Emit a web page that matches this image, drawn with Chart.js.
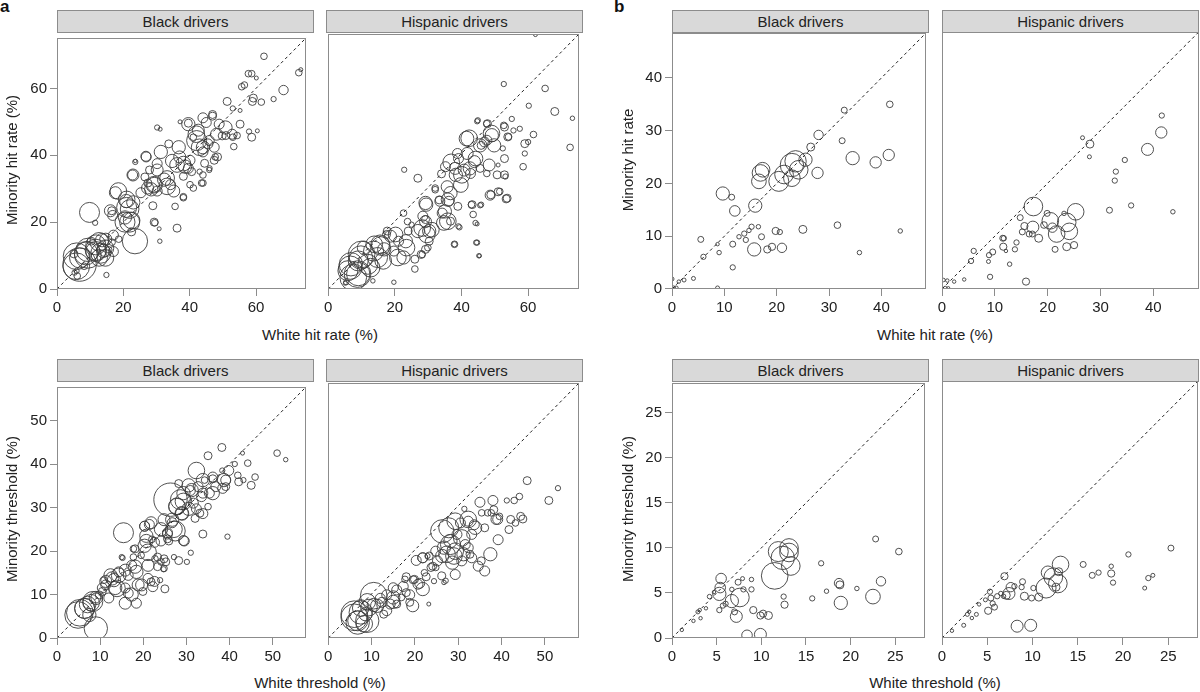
<!DOCTYPE html>
<html>
<head>
<meta charset="utf-8">
<script src="https://cdn.jsdelivr.net/npm/chart.js@4.4.1/dist/chart.umd.min.js"></script>
<style>
  body { margin: 0; width: 1200px; height: 692px; background: #fff; position: relative; overflow: hidden;
         font-family: "Liberation Sans", Arial, sans-serif; color: #222; }
  canvas { position: absolute; }
  .strip { position: absolute; height: 23px; box-sizing: border-box; background: #d9d9d9; border: 1px solid #8c8c8c;
           font-size: 15px; line-height: 21px; text-align: center; }
  .xlab { position: absolute; font-size: 15px; white-space: nowrap; transform: translate(-50%, -50%); }
  .ylab { position: absolute; font-size: 15px; white-space: nowrap; transform: translate(-50%, -50%) rotate(-90deg); }
  .tag { position: absolute; font-size: 17px; font-weight: bold; color: #111; }
</style>
</head>
<body>
<script>
// each point: [white value, minority value, relative number of stops]
const hitRateBlackA = [[5.1,10.5,16],[6.1,3.9,11],[5.9,5.4,7],[6.8,7.3,278],[9.3,10.2,178],[11.7,11.7,114],[9.3,11.7,136],[11.7,13.2,100],[12.7,14.1,87],[9.8,22.9,100],[11.5,19.8,7],[10.3,14.3,16],[12.7,9.3,69],[13.2,10.7,100],[13.9,11.4,44],[14.7,14.9,36],[15.6,11.7,11],[14.9,4.2,7],[16.6,14.0,11],[17.6,28.8,36],[16.1,23.4,36],[16.8,22.0,25],[18.6,14.9,11],[20.5,20.0,100],[21.0,24.4,100],[22.5,20.5,69],[23.0,25.9,44],[23.5,14.3,160],[22.5,17.1,16],[22.8,34.1,25],[23.6,38.3,3],[26.9,39.5,25],[27.4,31.7,16],[27.9,35.6,16],[28.4,29.8,44],[29.3,31.2,54],[28.9,24.9,16],[29.3,20.0,16],[29.5,19.8,11],[30.2,35.6,36],[30.8,18.0,4],[31.0,14.3,5],[31.1,47.8,4],[31.3,41.0,44],[32.3,32.7,44],[33.2,33.2,54],[34.2,31.2,25],[35.2,29.3,36],[35.6,24.7,11],[36.2,18.2,16],[36.2,37.1,54],[37.0,39.5,36],[36.7,42.4,44],[37.1,50.0,4],[38.1,27.6,11],[38.1,33.7,16],[38.6,36.6,44],[39.6,49.6,16],[40.1,38.5,25],[40.1,31.2,11],[40.6,35.1,16],[41.1,45.4,11],[42.1,44.4,100],[43.0,42.4,69],[42.6,47.5,36],[44.0,31.7,11],[44.0,41.0,25],[44.5,37.6,16],[45.0,49.8,25],[45.5,43.4,25],[46.0,36.1,7],[46.9,52.2,16],[47.4,38.5,16],[47.7,39.5,11],[48.1,46.3,36],[48.9,49.3,25],[50.9,45.9,16],[51.3,56.1,16],[53.0,54.0,7],[53.3,42.6,11],[53.0,45.4,11],[54.3,45.9,11],[55.2,53.4,4],[55.2,49.3,16],[55.7,60.5,11],[56.5,61.0,11],[57.7,64.4,11],[58.7,64.4,11],[60.1,63.1,4],[57.9,47.1,7],[58.7,45.4,16],[58.9,56.1,16],[59.2,57.1,16],[60.4,47.3,4],[61.6,55.9,11],[62.4,69.6,11],[65.3,56.8,7],[68.3,59.5,22],[72.9,64.7,11],[73.5,65.6,4],[21.0,26.8,69],[5.9,9.8,178],
  [44.0,51.2,25],[46.9,51.7,16],[50.8,48.3,44],[52.8,46.3,25],[49.8,45.8,16],[39.6,49.3,44],[42.0,46.3,69],[44.0,42.4,44],[45.9,44.4,25],[48.4,39.5,16],[47.4,42.4,25],[38.1,37.5,54],[39.6,36.1,25],[34.7,38.3,44],[33.7,43.4,16],[30.2,48.3,7],[26.8,39.7,25],[23.6,38.0,7],[22.9,34.1,36],[30.2,37.5,25],[26.5,33.5,16],[29.3,31.2,69],[27.3,30.2,36],[33.2,30.7,69],[30.2,29.3,25],[25.3,28.8,25],[18.5,29.3,69],[20.9,26.3,44],[16.5,23.4,16],[21.9,23.9,87],[21.9,20.0,100],[20.5,21.4,44],[38.1,27.3,11],[41.1,30.2,11],[43.6,31.7,11],[44.0,34.1,11],[45.9,35.6,7],[43.0,35.1,7],[13.6,14.6,44],[14.6,12.2,69],[11.7,11.2,100],[8.7,10.7,136],[6.8,9.3,100],[5.8,6.8,178],[14.6,9.3,69],[17.0,11.2,25],[17.0,16.1,25],[5.3,4.9,7],[8.2,6.8,11]];
const hitRateHispA = [[5.1,1.7,4],[6.6,6.3,136],[7.5,3.4,178],[9.0,8.3,100],[10.0,10.2,178],[9.0,4.4,136],[11.9,7.3,100],[13.4,2.4,5],[13.8,13.2,69],[14.8,9.3,100],[15.8,12.7,87],[16.8,11.7,44],[17.7,17.1,16],[18.7,15.6,36],[19.7,2.0,5],[19.7,11.2,25],[20.2,16.1,54],[21.1,14.1,25],[22.6,22.4,11],[22.6,9.3,44],[23.5,12.2,69],[24.0,17.1,16],[25.0,19.0,7],[26.0,5.9,11],[26.0,8.8,16],[26.9,32.7,16],[26.9,17.1,44],[27.9,10.2,16],[28.4,21.5,25],[29.2,20.5,16],[29.4,24.9,44],[29.6,16.1,69],[30.3,17.1,44],[29.9,12.2,11],[30.3,14.1,16],[32.1,29.8,11],[33.3,26.3,16],[34.2,22.4,25],[34.7,19.5,54],[35.2,36.1,25],[35.7,30.2,36],[36.2,25.9,25],[36.7,20.0,16],[36.7,28.3,44],[37.9,13.2,7],[38.1,35.6,36],[39.1,38.5,25],[39.1,18.5,7],[40.1,33.7,69],[40.8,35.1,36],[41.5,44.4,54],[42.5,35.6,44],[43.0,24.9,11],[43.5,22.0,11],[43.9,37.6,36],[44.4,13.7,7],[44.7,19.2,4],[44.9,49.8,7],[45.4,9.8,4],[45.9,24.9,7],[45.9,42.4,16],[46.9,43.4,25],[47.8,48.8,16],[48.3,36.6,36],[48.8,27.8,16],[49.0,45.9,69],[49.8,42.4,44],[50.7,33.7,16],[51.0,36.6,4],[51.5,28.8,11],[52.7,48.3,11],[52.7,60.5,7],[53.2,33.2,7],[53.7,26.8,16],[54.1,44.9,11],[55.1,50.2,7],[55.6,46.8,7],[57.5,47.3,7],[58.5,36.1,11],[59.0,40.0,7],[59.0,42.9,16],[60.0,43.4,7],[60.2,54.1,7],[61.6,45.6,11],[62.2,75.1,4],[65.1,59.2,11],[68.0,52.4,16],[72.6,41.8,11],[73.3,50.4,5],
  [44.7,49.5,7],[47.6,48.8,11],[49.1,45.4,44],[52.9,47.8,16],[53.9,44.9,16],[52.4,41.5,7],[52.9,38.5,16],[52.9,33.7,16],[47.6,43.9,25],[45.6,42.4,44],[42.3,44.5,69],[41.7,40.0,36],[44.2,38.5,54],[38.8,40.0,25],[36.9,37.4,69],[38.3,33.7,44],[39.8,30.7,54],[42.7,34.1,25],[45.6,35.6,16],[47.6,34.1,11],[48.6,27.7,25],[51.0,28.7,16],[53.4,26.6,16],[43.2,24.9,16],[45.6,24.7,7],[44.2,19.5,7],[44.7,13.7,7],[45.2,9.8,5],[37.9,13.2,11],[34.0,34.0,16],[32.1,29.3,11],[29.2,25.4,44],[33.5,25.9,25],[35.9,26.4,44],[35.0,22.9,44],[35.9,20.0,69],[38.9,24.4,16],[39.4,18.2,7],[29.2,19.9,36],[28.2,18.0,69],[31.1,17.5,54],[22.8,35.2,7],[23.8,19.9,11],[23.3,14.1,44],[20.9,9.3,69],[28.2,10.2,11],[29.2,11.7,16],[17.5,16.1,16],[15.6,13.2,87],[13.6,11.2,100],[10.7,12.2,44],[9.8,9.3,136],[6.8,7.3,136],[5.9,5.4,100],[8.8,4.4,178],[12.7,6.3,87],[16.5,8.3,69],[5.4,2.0,7]];
const thresholdBlackA = [[5.3,5.8,178],[6.4,6.8,100],[7.1,7.7,69],[9.0,2.2,136],[8.3,8.4,100],[9.0,9.2,25],[9.8,9.9,16],[10.5,10.7,16],[10.9,13.3,11],[11.3,12.2,25],[12.0,9.2,25],[12.4,14.4,44],[13.2,13.3,44],[13.9,11.4,69],[14.3,15.2,25],[15.4,24.2,100],[15.2,18.4,7],[15.8,8.0,36],[16.5,14.4,25],[16.5,10.3,25],[17.3,16.7,25],[17.7,20.5,11],[18.4,8.0,25],[18.4,15.2,44],[18.8,12.2,36],[19.5,19.0,11],[19.9,10.7,16],[20.3,25.7,25],[20.7,22.3,44],[21.1,19.7,69],[21.4,26.1,25],[21.8,12.9,16],[22.2,11.8,25],[22.0,22.7,11],[22.7,18.2,11],[23.9,13.3,7],[24.1,22.3,25],[24.1,17.5,11],[24.7,15.8,7],[25.0,11.3,16],[25.2,17.5,16],[25.6,23.9,25],[25.9,22.3,16],[26.3,31.8,278],[26.7,27.2,44],[27.4,24.6,100],[27.1,18.6,7],[28.2,35.5,16],[27.8,30.2,69],[28.2,17.8,16],[28.6,31.8,100],[28.9,28.7,44],[29.3,33.3,44],[29.5,22.3,25],[30.1,17.5,7],[30.5,35.1,44],[30.9,33.9,25],[31.0,19.6,7],[31.6,31.0,25],[32.3,38.5,69],[32.7,34.8,25],[33.1,28.7,16],[33.5,32.5,25],[33.8,23.9,16],[34.2,36.3,11],[35.0,41.9,16],[35.0,30.2,11],[35.3,33.3,25],[36.1,36.6,16],[36.8,34.8,25],[38.2,43.8,16],[38.3,38.5,7],[39.1,34.8,16],[39.5,23.3,7],[39.1,36.3,25],[41.2,40.0,7],[41.9,37.4,11],[42.1,35.9,16],[43.0,42.5,4],[43.2,36.3,7],[44.2,40.2,11],[45.0,35.1,16],[45.9,37.0,11],[51.0,42.5,11],[53.0,41.0,5],
  [33.8,36.3,44],[36.1,37.0,25],[38.7,36.3,44],[39.8,38.5,25],[38.4,34.4,25],[36.1,33.3,44],[33.8,33.3,25],[31.2,34.0,44],[29.3,31.4,69],[27.8,30.3,69],[29.0,28.6,44],[30.5,29.7,44],[32.3,29.7,25],[33.8,28.6,25],[32.0,27.5,16],[26.7,26.5,25],[24.8,27.2,36],[27.1,25.0,69],[25.6,24.2,25],[24.1,25.0,44],[21.8,26.5,36],[20.3,25.7,25],[20.7,23.5,44],[22.6,22.0,25],[25.6,22.8,16],[29.3,22.4,25],[24.8,18.2,16],[23.3,18.6,16],[23.3,16.4,16],[24.8,16.0,11],[21.1,16.7,36],[18.1,20.5,16],[17.7,18.6,11],[20.3,21.2,44],[15.0,18.6,7],[18.1,16.4,44],[15.8,15.6,36],[14.3,14.4,54],[12.8,13.7,44],[11.3,13.0,36],[10.5,11.5,25],[13.5,11.5,44],[15.8,11.5,25],[17.3,10.0,44],[19.6,12.2,36],[21.1,13.7,25],[22.6,13.0,25],[7.9,8.1,69],[9.0,9.2,44],[6.4,6.8,100],[4.9,5.3,178],[7.5,5.3,44]];
const thresholdHispA = [[6.0,4.7,178],[7.5,5.8,136],[6.8,3.9,100],[8.3,3.2,69],[8.6,5.4,44],[10.5,9.6,178],[9.4,6.9,69],[11.3,7.3,44],[12.4,8.1,25],[13.5,6.2,25],[14.3,7.7,25],[15.0,9.2,44],[15.0,11.4,25],[15.8,7.7,16],[16.9,9.2,11],[17.7,13.3,11],[18.0,10.3,16],[18.8,8.1,16],[19.5,7.3,36],[19.9,13.3,16],[20.7,12.2,25],[21.8,11.1,44],[22.2,14.8,11],[23.2,7.7,4],[20.3,17.6,25],[21.8,18.2,25],[22.9,18.6,7],[23.7,16.0,16],[24.4,12.9,7],[24.8,16.0,11],[25.2,17.5,25],[26.2,14.1,16],[26.7,12.6,5],[26.3,24.2,136],[27.8,25.0,100],[26.7,20.5,44],[27.4,19.0,69],[28.2,22.0,44],[28.6,17.1,44],[29.3,14.4,25],[29.3,19.7,69],[29.7,23.5,25],[30.5,26.1,25],[30.8,17.5,25],[31.4,29.3,7],[31.6,21.2,25],[32.3,26.9,69],[32.7,19.0,16],[33.1,23.5,25],[33.7,25.7,25],[34.6,16.3,25],[35.0,30.8,25],[35.3,17.5,16],[36.1,15.2,25],[36.1,25.0,16],[36.8,28.4,11],[37.4,19.0,44],[38.0,31.2,25],[38.2,29.1,16],[38.7,26.9,25],[39.2,22.3,25],[39.5,27.6,11],[41.2,31.2,7],[41.7,24.6,16],[42.1,26.9,16],[42.9,31.2,11],[43.2,26.1,11],[44.1,32.1,11],[44.9,27.0,16],[45.9,35.7,16],[50.9,31.2,16],[53.0,34.0,7],
  [35.4,28.4,11],[37.6,28.4,11],[39.1,26.9,25],[27.1,13.0,7],[29.3,26.5,69],[32.3,26.5,25],[33.9,25.0,44],[30.8,22.7,69],[28.2,21.2,100],[29.0,18.6,69],[26.3,18.6,44],[24.8,19.7,25],[23.3,18.6,16],[21.8,18.2,25],[24.1,16.3,16],[31.2,19.0,44],[33.1,18.2,25],[32.3,20.5,25],[22.6,13.9,16],[21.1,12.4,25],[19.6,13.2,16],[18.0,13.9,16],[17.3,11.7,25],[18.8,9.8,25],[15.8,10.9,25],[15.0,8.2,44],[13.5,9.8,25],[12.0,9.0,25],[10.5,7.5,44],[9.0,8.2,69],[7.5,6.8,69],[6.0,5.4,178],[9.0,3.9,136],[6.8,3.5,136],[12.8,5.4,16],[44.4,27.6,16]];
const hitRateBlackB = [[0,1.9,4],[0.3,0.2,4],[0.8,0.2,4],[1.3,1.4,3],[2.3,1.7,4],[4.1,2.0,4],[5.5,9.4,9],[6.0,6.1,7],[8.7,8.5,3],[9.0,6.9,5],[8.7,0.2,4],[9.7,18.1,44],[11.4,17.4,9],[12.0,14.8,28],[11.6,8.5,9],[11.6,4.1,7],[12.8,9.9,5],[13.8,10.5,7],[14.1,9.3,7],[14.7,11.1,5],[15.2,11.8,7],[16.5,11.8,5],[17.1,9.9,9],[15.7,7.5,44],[15.9,15.8,44],[16.6,20.4,54],[16.9,22.0,69],[17.3,22.6,54],[18.2,7.5,13],[19.1,8.0,13],[19.8,11.0,13],[20.6,10.8,7],[21.0,7.8,22],[20.4,20.4,100],[21.4,21.7,87],[22.9,23.5,136],[23.6,24.2,114],[24.2,22.6,87],[22.9,21.0,69],[25.5,24.5,44],[25.0,11.3,16],[26.5,26.9,16],[28.0,29.2,22],[27.8,22.0,32],[31.6,12.1,11],[32.5,28.1,9],[32.9,33.9,9],[34.5,24.8,44],[35.8,6.9,5],[38.9,24.0,32],[41.4,25.4,32],[41.6,35.0,11],[43.6,11.0,5]];
const hitRateHispB = [[0.3,1.7,3],[1.0,1.6,3],[0.6,0.2,3],[1.2,0.2,2],[2.3,1.4,3],[4.2,1.8,3],[5.5,5.3,7],[6.0,7.2,7],[8.8,5.2,4],[8.9,6.4,7],[9.1,2.3,7],[9.6,7.0,9],[11.5,9.6,9],[11.7,9.6,7],[11.6,8.0,13],[12.1,7.2,3],[12.8,4.7,5],[13.8,7.5,7],[14.1,8.8,7],[14.8,13.5,9],[15.2,10.8,9],[15.6,11.9,13],[15.9,1.4,13],[16.5,10.4,9],[17.1,10.4,9],[17.3,15.6,87],[17.2,11.7,36],[18.3,9.6,16],[19.3,12.1,11],[19.9,14.3,9],[20.5,12.9,69],[20.9,11.6,22],[21.4,7.5,9],[21.7,10.4,69],[23.1,14.3,5],[23.6,12.6,87],[24.1,10.9,69],[23.6,8.0,16],[25.0,8.3,13],[25.3,14.6,69],[26.6,28.6,4],[27.9,25.0,4],[28.0,27.4,16],[31.7,14.9,9],[32.7,20.5,7],[32.9,22.2,7],[34.6,24.4,7],[35.8,15.8,7],[38.9,26.4,36],[41.5,29.6,32],[41.6,32.8,7],[43.7,14.6,5]];
const thresholdBlackB = [[1.1,0.9,3],[2.4,1.9,3],[2.9,2.9,4],[3.1,3.1,3],[3.2,2.2,3],[3.8,3.3,3],[4.2,4.6,5],[4.7,5.1,3],[5.3,3.1,7],[5.3,4.9,44],[5.5,6.6,28],[5.4,5.6,28],[5.7,3.6,7],[6.0,3.8,7],[6.7,5.4,5],[6.7,4.1,44],[7.0,2.9,9],[7.2,2.4,36],[7.4,6.2,9],[7.6,4.5,87],[7.9,6.6,4],[8.0,5.4,7],[8.4,0.3,28],[8.9,6.5,5],[8.9,5.4,7],[9.1,3.1,13],[9.9,0.4,36],[9.9,2.5,13],[10.2,2.7,13],[10.8,2.5,16],[11.5,6.9,178],[11.9,9.6,100],[12.4,8.9,136],[13.1,10.0,87],[13.1,9.5,87],[13.3,8.0,87],[12.5,4.6,7],[12.6,3.7,13],[15.7,4.4,7],[16.7,8.3,7],[17.3,5.2,5],[18.7,6.1,22],[18.8,5.9,16],[18.9,3.9,44],[20.7,5.5,5],[22.5,4.6,54],[22.8,11.0,9],[23.4,6.3,22],[25.4,9.6,11]];
const thresholdHispB = [[1.1,0.8,3],[2.4,1.4,4],[2.8,2.6,4],[3.0,2.9,3],[3.3,2.2,3],[3.8,2.6,4],[4.1,3.7,3],[4.8,4.2,4],[5.1,3.0,13],[5.3,5.1,7],[5.4,4.4,9],[5.6,3.8,7],[5.8,3.4,9],[6.1,4.6,7],[6.5,4.9,5],[6.8,4.6,5],[6.9,6.8,13],[7.1,4.7,16],[7.4,4.9,36],[7.6,5.6,22],[8.0,5.7,7],[8.3,1.3,36],[8.8,5.6,7],[8.9,6.2,9],[9.1,4.6,16],[9.8,1.4,36],[9.9,4.4,9],[10.1,5.5,7],[10.7,4.5,16],[11.5,5.5,100],[11.7,7.2,44],[12.3,6.7,87],[12.6,5.6,16],[12.8,6.0,87],[13.1,8.1,69],[12.9,7.3,16],[15.6,8.1,9],[16.6,6.9,9],[17.3,7.2,7],[18.7,7.9,5],[18.7,7.1,13],[18.9,6.1,7],[20.6,9.2,7],[22.4,5.5,4],[22.8,6.6,7],[23.3,6.9,4],[25.3,9.9,9]];

const hitTicksA = [0, 20, 40, 60];
const thrTicksA = [0, 10, 20, 30, 40, 50];
const hitTicksB = [0, 10, 20, 30, 40];
const thrTicksB = [0, 5, 10, 15, 20, 25];
const hitRangeA = [0, 75.2];
const thrRangeA = [0, 57.8];
const hitRangeB = [0, 48.6];
const thrRangeB = [0, 28.3];

const groups = ['Black drivers', 'Hispanic drivers'];

Chart.defaults.font.family = '"Liberation Sans", Arial, sans-serif';

const PLOT = 257;
const FRAME = '#8c8c8c';

const panels = [
  { left: 57,  top: 32,  first: true,  group: 0, points: hitRateBlackA,   range: hitRangeA, ticks: hitTicksA },
  { left: 326, top: 32,  first: false, group: 1, points: hitRateHispA,    range: hitRangeA, ticks: hitTicksA },
  { left: 672, top: 32,  first: true,  group: 0, points: hitRateBlackB,   range: hitRangeB, ticks: hitTicksB },
  { left: 942, top: 32,  first: false, group: 1, points: hitRateHispB,    range: hitRangeB, ticks: hitTicksB },
  { left: 57,  top: 381, first: true,  group: 0, points: thresholdBlackA, range: thrRangeA, ticks: thrTicksA },
  { left: 326, top: 381, first: false, group: 1, points: thresholdHispA,  range: thrRangeA, ticks: thrTicksA },
  { left: 672, top: 381, first: true,  group: 0, points: thresholdBlackB, range: thrRangeB, ticks: thrTicksB },
  { left: 942, top: 381, first: false, group: 1, points: thresholdHispB,  range: thrRangeB, ticks: thrTicksB }
];

const framePlugin = {
  id: 'frame',
  afterDatasetsDraw(chart) {
    const { ctx, chartArea: a } = chart;
    ctx.save();
    ctx.strokeStyle = FRAME;
    ctx.lineWidth = 1;
    ctx.strokeRect(Math.round(a.left) + 0.5, Math.round(a.top) + 0.5,
                   Math.round(a.right - a.left) - 1, Math.round(a.bottom - a.top) - 1);
    ctx.restore();
  }
};

function addText(cls, text, x, y) {
  const el = document.createElement('div');
  el.className = cls;
  el.textContent = text;
  el.style.left = x + 'px';
  el.style.top = y + 'px';
  document.body.appendChild(el);
}

function drawPanel(p) {
  const yw = p.first ? 50 : 12;
  const padT = 12, padR = 10, xh = 32;
  const cv = document.createElement('canvas');
  cv.width = yw + PLOT + padR;
  cv.height = padT + PLOT + xh;
  cv.style.left = (p.left - yw) + 'px';
  cv.style.top = (p.top - padT) + 'px';
  document.body.appendChild(cv);

  const strip = document.createElement('div');
  strip.className = 'strip';
  strip.textContent = groups[p.group];
  strip.style.left = p.left + 'px';
  strip.style.top = (p.top - 22) + 'px';
  strip.style.width = PLOT + 'px';
  document.body.appendChild(strip);

  const [lo, hi] = p.range;
  const tickFont = { size: 15 };

  new Chart(cv, {
    type: 'bubble',
    data: {
      datasets: [
        {
          type: 'line',
          data: [{ x: lo, y: lo }, { x: hi, y: hi }],
          borderColor: '#222',
          borderWidth: 1,
          borderDash: [3, 3],
          pointRadius: 0,
          order: 0
        },
        {
          data: p.points.map(([x, y, n]) => ({ x, y, r: Math.sqrt(n) })),
          backgroundColor: 'rgba(0,0,0,0)',
          borderColor: '#3d3d3d',
          borderWidth: 0.9,
          order: 1
        }
      ]
    },
    options: {
      responsive: false,
      animation: false,
      events: [],
      layout: { padding: { top: padT, right: padR, left: 0, bottom: 0 } },
      plugins: { legend: { display: false }, tooltip: { enabled: false } },
      scales: {
        x: {
          type: 'linear', min: lo, max: hi,
          afterBuildTicks: s => { s.ticks = p.ticks.map(v => ({ value: v })); },
          afterFit: s => { s.height = xh; },
          border: { display: false },
          grid: { drawOnChartArea: false, tickLength: 7, color: FRAME },
          ticks: { color: '#222', font: tickFont, padding: 3, maxRotation: 0, autoSkip: false }
        },
        y: {
          type: 'linear', min: lo, max: hi,
          afterBuildTicks: s => { s.ticks = p.ticks.map(v => ({ value: v })); },
          afterFit: s => { s.width = yw; },
          border: { display: false },
          grid: { display: p.first, drawOnChartArea: false, tickLength: 7, color: FRAME },
          ticks: { display: p.first, color: '#222', font: tickFont, padding: 3, autoSkip: false }
        }
      }
    },
    plugins: [framePlugin]
  });
}

panels.forEach(drawPanel);

addText('tag', 'a', 0, -3);
addText('tag', 'b', 614, -3);
addText('ylab', 'Minority hit rate (%)', 11, 160);
addText('ylab', 'Minority hit rate', 627, 160);
addText('ylab', 'Minority threshold (%)', 11, 509);
addText('ylab', 'Minority threshold (%)', 627, 509);
addText('xlab', 'White hit rate (%)', 320, 334);
addText('xlab', 'White hit rate (%)', 935, 334);
addText('xlab', 'White threshold (%)', 320, 682);
addText('xlab', 'White threshold (%)', 935, 682);
</script>
</body>
</html>
